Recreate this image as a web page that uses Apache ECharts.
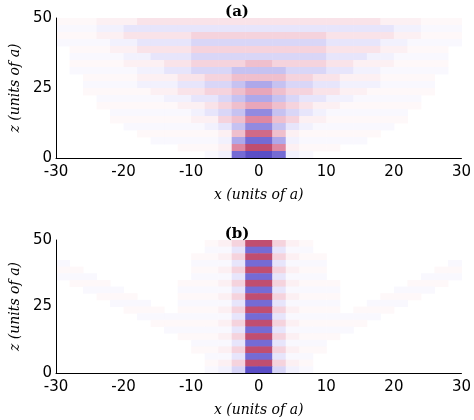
<!DOCTYPE html>
<html>
<head>
<meta charset="utf-8">
<script src="https://cdn.jsdelivr.net/npm/echarts@6/dist/echarts.min.js"></script>
<style>html,body{margin:0;padding:0;background:#fff}#chart{width:474px;height:420px}</style>
</head>
<body>
<div id="chart"></div>
<script>
// x bins: -30..30 step 2, z bins: 0..50 step 2.5
var xCenters = [];
for (var i = 0; i < 30; i++) xCenters.push(-29 + 2 * i);
var zCenters = [];
for (var j = 0; j < 20; j++) zCenters.push(48.75 - 2.5 * j); // top row first

// intensity levels 0-9, left half (x=-29..-1), top row first; right half is the mirror
var fieldA = [
  '111222333333333', '111223333333333', '111223333344444', '111122333344444',
  '011122333344444', '011112233344444', '011112223344445', '011111223344455',
  '001111222334455', '001111222334456', '001111122334456', '000111112233456',
  '000111111223456', '000011111123457', '000011111122457', '000001111112357',
  '000000111111258', '000000011111268', '000000000111279', '000000000001289'
];
var fieldB = [
  '000000000001249', '000000000001138', '000000000011249', '100000000011138',
  '110000000011249', '111000000011138', '011100000111249', '001110000111138',
  '000111000111249', '000011100111138', '000001110111249', '000000111111138',
  '000000011111249', '000000001111138', '000000000111249', '000000000011138',
  '000000000011249', '000000000001138', '000000000001249', '000000000001249'
];

var redish = ['#ffffff','#fef8f9','#fcf0f3','#f9e3e9','#f5d3dd','#efbfcd','#e8a6ba','#de88a2','#d06a88','#c04e70'];
var blueish = ['#ffffff','#f9f8fe','#f2f1fd','#e7e5fb','#d9d6f7','#c6c2f1','#aea8ea','#928ae0','#756bd4','#5a4ec6'];

function toData(rows) {
  var out = [];
  rows.forEach(function (half, r) {
    var full = half + half.split('').reverse().join('');
    for (var c = 0; c < 30; c++) {
      var v = +full[c];
      if (v > 0) out.push([xCenters[c], zCenters[r], v, r]);
    }
  });
  return out;
}

function renderCell(params, api) {
  var p = api.coord([api.value(0) - 1, api.value(1) + 1.25]);
  var s = api.size([2, 2.5]);
  var lvl = api.value(2);
  var pal = (api.value(3) % 2 === 0) ? redish : blueish;
  return {
    type: 'rect',
    shape: { x: p[0], y: p[1], width: s[0] + 0.5, height: s[1] + 0.5 },
    style: { fill: pal[lvl] }
  };
}

var font = 'DejaVu Serif';
function xAxis(idx) {
  return {
    gridIndex: idx, type: 'value', min: -30, max: 30, interval: 10, z: 10,
    name: 'x (units of a)', nameLocation: 'middle', nameGap: 30,
    nameTextStyle: { fontFamily: font, fontStyle: 'italic', fontSize: 14, color: '#000' },
    axisLine: { onZero: false, lineStyle: { color: '#000' } }, axisTick: { show: false }, splitLine: { show: false },
    axisLabel: { fontFamily: 'DejaVu Sans', fontSize: 15, color: '#000', margin: 7 }
  };
}
function yAxis(idx) {
  return {
    gridIndex: idx, type: 'value', min: 0, max: 50, interval: 25, z: 10,
    name: 'z (units of a)', nameLocation: 'middle', nameGap: 22,
    nameTextStyle: { fontFamily: font, fontStyle: 'italic', fontSize: 14, color: '#000' },
    axisLine: { onZero: false, lineStyle: { color: '#000' } }, axisTick: { show: false }, splitLine: { show: false },
    axisLabel: { fontFamily: 'DejaVu Sans', fontSize: 15, color: '#000', margin: 4 }
  };
}

var chart = echarts.init(document.getElementById('chart'));
chart.setOption({
  animation: false,
  title: [
    { text: '(a)', left: 'center', top: 0, textStyle: { fontFamily: font, fontSize: 15, fontWeight: 'bold', color: '#000' } },
    { text: '(b)', left: 'center', top: 222, textStyle: { fontFamily: font, fontSize: 15, fontWeight: 'bold', color: '#000' } }
  ],
  grid: [
    { left: 36, right: 12, top: 18, height: 140 },
    { left: 36, right: 12, top: 240, height: 133 }
  ],
  xAxis: [xAxis(0), xAxis(1)],
  yAxis: [yAxis(0), yAxis(1)],
  series: [
    { type: 'custom', xAxisIndex: 0, yAxisIndex: 0, z: 1, renderItem: renderCell, data: toData(fieldA), clip: true },
    { type: 'custom', xAxisIndex: 1, yAxisIndex: 1, z: 1, renderItem: renderCell, data: toData(fieldB), clip: true }
  ]
});
</script>
</body>
</html>
